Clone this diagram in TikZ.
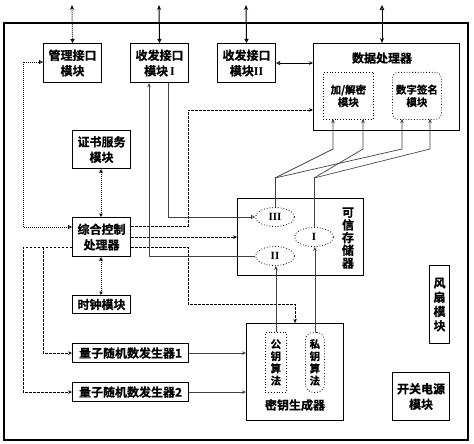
\documentclass[tikz,border=0pt]{standalone}
\usepackage{fontspec}
\usetikzlibrary{arrows.meta,calc,shapes.geometric}
\newfontfamily\cjk{Noto Sans CJK SC}[BoldFont={Noto Sans CJK SC Bold},BoldFeatures={FakeBold=0.8}]
\newfontfamily\rmn{Liberation Serif}
\newcommand\rn[1]{{\rmn\bfseries #1}}
\tikzset{
  box/.style={draw, line width=1.1pt, fill=white, inner sep=0pt, align=center, anchor=north west,
    font=\cjk\bfseries\fontsize{12}{15.5}\selectfont},
  sub/.style={draw, dotted, line width=0.8pt, inner sep=0pt, align=center, anchor=north west,
    font=\cjk\bfseries\fontsize{10.5}{12.5}\selectfont},
  ell/.style={draw, dotted, line width=0.8pt, ellipse, minimum width=39pt, minimum height=19pt, inner sep=0pt,
    font=\fontsize{11}{11}\selectfont},
  lbl/.style={inner sep=0pt, align=center, font=\cjk\bfseries\fontsize{12}{15}\selectfont},
  conn/.style={line width=0.7pt, draw=black!75},
  dsh/.style={line width=0.7pt, dash pattern=on 2.5pt off 1.5pt},
  dtt/.style={line width=0.8pt, dash pattern=on 0.8pt off 1.2pt},
  fa/.style={-{Stealth[length=4pt,width=3.5pt]}},
  oa/.style={-{Triangle[open,length=4pt,width=4pt]}},
}
\newcommand\mybox[7][box]{\node[#1, minimum width=#5pt-#3pt, minimum height=#6pt-#4pt] (#2) at (#3,#4) {#7};}
\begin{document}
\begin{tikzpicture}[x=1pt,y=-1pt]
\useasboundingbox (0,0) rectangle (474,444);
\draw[line width=1.6pt] (4,23) rectangle (468,440);
% boxes
\mybox{gl}{43}{43}{101}{82}{管理接口\\模块}
\mybox{sf1}{130}{43}{188}{82}{收发接口\\模块\,\rn{I}}
\mybox{sf2}{217}{43}{275}{82}{收发接口\\模块\rn{II}}
\mybox{dp}{313}{43}{459}{130}{}
\node[lbl] (dpt) at (382,58) {数据处理器};
\mybox[sub]{jm}{323}{72}{373}{119}{加/解密\\模块}
\mybox[sub,rounded corners=6pt]{qm}{392}{72}{441}{119}{数字签名\\模块}
\mybox{zs}{72}{130}{130}{168}{证书服务\\模块}
\mybox{zk}{72}{217}{130}{256}{综合控制\\处理器}
\mybox{sz}{72}{295}{130}{313}{时钟模块}
\mybox{q1}{72}{343}{188}{362}{量子随机数发生器1}
\mybox{q2}{72}{382}{188}{401}{量子随机数发生器2}
\mybox{kx}{237}{198}{363}{275}{}
\node[lbl, font=\cjk\bfseries\fontsize{12}{12.7}\selectfont] (kxt) at (348,238) {可\\信\\存\\储\\器};
\node[ell] (e3) at (275,217) {\rn{III}};
\node[ell] (e1) at (314,237) {\rn{I}};
\node[ell] (e2) at (275,256) {\rn{II}};
\mybox[box,font=\cjk\bfseries\fontsize{12}{14.3}\selectfont]{fs}{429}{265}{449}{343}{风\\扇\\模\\块}
\mybox{kg}{392}{372}{449}{420}{开关电源\\模块}
\mybox{my}{246}{323}{343}{420}{}
\node[lbl] (myt) at (295,405) {密钥生成器};
\mybox[sub,font=\cjk\bfseries\fontsize{10.5}{12.2}\selectfont]{gy}{265}{332}{286}{392}{公\\钥\\算\\法}
\mybox[sub,rounded corners=8pt,font=\cjk\bfseries\fontsize{10.5}{12.2}\selectfont]{sy}{305}{332}{324}{392}{私\\钥\\算\\法}
% external arrows
\coordinate (t1) at (72,5);
\coordinate (t2) at (159,5);
\coordinate (t3) at (246,5);
\coordinate (t4) at (382,5);
\draw[dtt,line width=1pt,{Triangle[open,length=4pt,width=4pt]}-{Stealth[length=5pt,width=4pt]}] (gl.north) -- (t1);
\draw[line width=1pt,{Triangle[open,length=4pt,width=4pt]}-{Stealth[length=5pt,width=4pt]}] (sf1.north) -- (t2);
\draw[line width=1pt,{Triangle[open,length=4pt,width=4pt]}-{Stealth[length=5pt,width=4pt]}] (sf2.north) -- (t3);
\draw[line width=1pt,{Stealth[length=5pt,width=4pt]}-{Triangle[open,length=5pt,width=4.5pt]}] (t4 |- dp.north) -- (t4);
\draw[line width=0.8pt,{Triangle[open,length=4pt,width=4pt]}-{Stealth[length=4pt,width=3.5pt]}] (sf2.east) -- (sf2.east -| dp.west);
% control processor links
\draw[dtt,{Triangle[open,length=4pt,width=4pt]}-{Triangle[open,length=4pt,width=4pt]}]
  (gl.west |- 0,62) -| ($(zk.north west)+(-49,10)$) -- ($(zk.north west)+(0,10)$);
\draw[dtt,{Triangle[open,length=3.5pt,width=3.5pt]}-{Triangle[open,length=3.5pt,width=3.5pt]}] (zs.south -| 101,0) -- (zk.north -| 101,0);
\draw[dtt,{Triangle[open,length=3.5pt,width=3.5pt]}-{Triangle[open,length=3.5pt,width=3.5pt]}] (zk.south -| 101,0) -- (sz.north -| 101,0);
\coordinate (b1) at (188,110);
\coordinate (b2) at (188,304);
\draw[dsh,fa] ($(zk.north east)+(0,9)$) -| (b1) -- (b1 -| dp.west);
\draw[dsh,fa] (zk.east) -- (zk.east -| kx.west);
\draw[dsh,fa] ($(zk.south east)+(0,-10)$) -| (b2) -| (my.north);
\draw[dsh,fa] ($(zk.south west)+(0,-10)$) -| ($(q2.west)+(-49,0)$) -- (q2.west);
\draw[dsh,fa] ($(zk.south west)+(-29,-10)$) |- (q1.west);
% transceiver I links
\draw[conn,fa] (e2.west) -| ($(sf1.south west)+(19,0)$);
\draw[conn,oa] ($(sf1.south west)+(38,0)$) |- (e3.west);
% random generators
\draw[conn,fa] (q1.east) -- (q1.east -| my.west);
\draw[conn,fa] (q2.east) -- (q2.east -| my.west);
% key algorithms to storage
\draw[conn,fa] (gy.north) -- (gy.north |- e2.south);
\draw[conn,fa] (sy.north) -- (sy.north |- e1.south);
% storage to data processor
\coordinate (j3) at (275,178);
\coordinate (j1) at (314,178);
\draw[conn] (e3.north) -- (j3);
\draw[conn] (e1.north) -- (j1);
\draw[conn,fa] (j3) -- (333,149) -- (333,119);
\draw[conn,fa] (j3) -- (402,149) -- (402,119);
\draw[conn,fa] (j1) -- (363,149) -- (363,119);
\draw[conn,fa] (j1) -- (430,149) -- (430,119);
\end{tikzpicture}
\end{document}
